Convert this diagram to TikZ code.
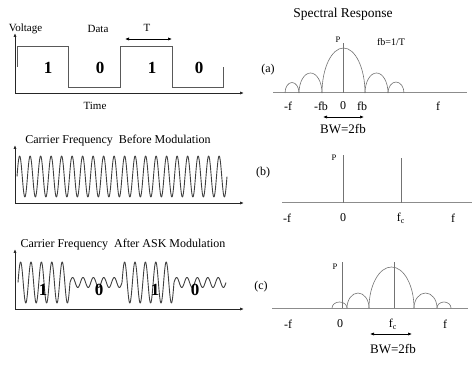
\documentclass[tikz,border=0pt]{standalone}
\usepackage{fontspec}
\setmainfont{Liberation Serif}
\usetikzlibrary{arrows.meta}
\tikzset{
  timeaxis/.style={line width=0.8pt, draw=black!85, -{Latex[length=4pt,width=3.2pt]}},
  specaxis/.style={line width=1pt, draw=black!45},
  specline/.style={line width=0.7pt, draw=black!55},
  lobe/.style={line width=0.6pt, draw=black!55},
  wave/.style={line width=0.9pt, draw=black!75, line join=round},
  pulse/.style={line width=1pt, draw=black!65},
  span/.style={line width=0.7pt, draw=black, {Latex[length=4pt,width=3.2pt]}-{Latex[length=4pt,width=3.2pt]}},
  lbl/.style={font=\fontsize{11}{13}\selectfont, inner sep=0pt},
  ttl/.style={font=\fontsize{12}{14}\selectfont, inner sep=0pt},
  freq/.style={font=\fontsize{12}{14}\selectfont, inner sep=0pt},
  bitlabel/.style={font=\fontsize{17}{19}\selectfont\bfseries, inner sep=0pt},
  small/.style={font=\fontsize{8.5}{10}\selectfont, inner sep=0pt},
}
\newcommand{\speclobe}[4]{\draw[lobe] ({#2-#3},#1) arc[start angle=180, end angle=0, x radius=#3pt, y radius=#4pt];}

\begin{document}
\begin{tikzpicture}[x=1pt, y=-1pt]
\useasboundingbox (0,0) rectangle (474,366);
\coordinate (o1) at (15,93);
\coordinate (v1) at (15,33);
\coordinate (h1) at (244,93);
\draw[timeaxis] (o1) -- (v1);
\draw[timeaxis] (o1) -- (h1);
\draw[pulse] (17,67) -- (17,47) -- (68,47) -- (68,88) -- (120,88) -- (120,47) -- (172,47) -- (172,88) -- (223,88) -- (223,67);
\node[lbl] (voltage) at (25.5,29) {Voltage};
\node[lbl] (data) at (98,29) {Data};
\node[lbl] (period) at (147,28) {T};
\node[lbl] (time) at (95,106) {Time};
\coordinate (ta) at (125,39);
\coordinate (tb) at (172,39);
\draw[span] (ta) -- (tb);
\node[bitlabel] (d1) at (48,68) {1};
\node[bitlabel] (d2) at (100,68) {0};
\node[bitlabel] (d3) at (152,68) {1};
\node[bitlabel] (d4) at (199,68) {0};
\coordinate (o2) at (15,203);
\coordinate (v2) at (15,145);
\coordinate (h2) at (244,203);
\draw[timeaxis] (o2) -- (v2);
\draw[timeaxis] (o2) -- (h2);
\node[ttl] (carrier) at (118,141) {Carrier Frequency\ \ Before Modulation};
\draw[wave] plot[domain=17:227, samples=601, smooth] (\x, {176.5-20.5*sin(360/10.5*(\x-17))});
\coordinate (o3) at (15,309);
\coordinate (v3) at (15,249);
\coordinate (h3) at (244,309);
\draw[timeaxis] (o3) -- (v3);
\draw[timeaxis] (o3) -- (h3);
\node[ttl] (ask) at (123,245) {Carrier Frequency\ \ After ASK Modulation};
\draw[wave] plot[domain=18:226, samples=601, smooth] (\x, {282.5-(mod(floor((\x-18)/52),2)==0 ? 20.5 : 5)*sin(360/10.4*(\x-18))});
\node[bitlabel] (a1) at (43,290) {1};
\node[bitlabel] (a2) at (99,290) {0};
\node[bitlabel] (a3) at (155,290) {1};
\node[bitlabel] (a4) at (195,290) {0};
\node[font=\fontsize{13.5}{15}\selectfont, inner sep=0pt] (spectral) at (343,14) {Spectral\ Response};
\node[ttl] (taga) at (268,70) {(a)};
\node[ttl] (tagb) at (263,173) {(b)};
\node[ttl] (tagc) at (261,287) {(c)};
\coordinate (sa1) at (273,93);
\coordinate (sa2) at (467,93);
\draw[specaxis] (sa1) -- (sa2);
\speclobe{93}{292}{7}{10.5}
\speclobe{93}{310.5}{11.5}{20}
\speclobe{93}{343.5}{21.5}{45}
\speclobe{93}{376.5}{11.5}{20}
\speclobe{93}{396}{8}{11}
\coordinate (pa1) at (343,93);
\coordinate (pa2) at (343,43);
\draw[specline] (pa1) -- (pa2);
\node[small] (powa) at (338,40) {P};
\node[font=\fontsize{10}{12}\selectfont, inner sep=0pt] (fbdef) at (391,42) {fb=1/T};
\node[freq] (ma) at (288,106) {-f};
\node[freq] (mfba) at (321,106) {-fb};
\node[freq] (za) at (343,106) {0};
\node[freq] (fba) at (362,106) {fb};
\node[freq] (fa) at (438,106) {f};
\coordinate (bwa1) at (323,117);
\coordinate (bwa2) at (364,117);
\draw[span] (bwa1) -- (bwa2);
\node[font=\fontsize{13}{15}\selectfont, inner sep=0pt] (bwa) at (343,129) {BW=2fb};
\coordinate (sb1) at (282,203);
\coordinate (sb2) at (472,203);
\draw[specaxis] (sb1) -- (sb2);
\coordinate (pb1) at (343,203);
\coordinate (pb2) at (343,155);
\draw[specline] (pb1) -- (pb2);
\coordinate (cb1) at (401,203);
\coordinate (cb2) at (401,158);
\draw[specline] (cb1) -- (cb2);
\node[small] (powb) at (334,158) {P};
\node[freq] (mb) at (287,218) {-f};
\node[freq] (zb) at (343,218) {0};
\node[freq] (fcb) at (401,218) {f\textsubscript{c}};
\node[freq] (fb) at (453,218) {f};
\coordinate (sc1) at (272,308);
\coordinate (sc2) at (468,308);
\draw[specaxis] (sc1) -- (sc2);
\speclobe{308}{339.5}{7.5}{6}
\speclobe{308}{358}{11}{15}
\speclobe{308}{391.5}{22.5}{41}
\speclobe{308}{425.5}{11.5}{15}
\speclobe{308}{444}{7}{6}
\coordinate (pc1) at (342,308);
\coordinate (pc2) at (342,262);
\draw[specline] (pc1) -- (pc2);
\coordinate (cc1) at (394,308);
\coordinate (cc2) at (394,262);
\draw[specline] (cc1) -- (cc2);
\node[small] (powc) at (335,267) {P};
\node[freq] (mc) at (288,324) {-f};
\node[freq] (zc) at (340,324) {0};
\node[freq] (fcc) at (393,324) {f\textsubscript{c}};
\node[freq] (fc) at (445,324) {f};
\coordinate (bwc1) at (370,334);
\coordinate (bwc2) at (412,334);
\draw[span] (bwc1) -- (bwc2);
\node[font=\fontsize{13}{15}\selectfont, inner sep=0pt] (bwc) at (393,349) {BW=2fb};
\end{tikzpicture}
\end{document}
